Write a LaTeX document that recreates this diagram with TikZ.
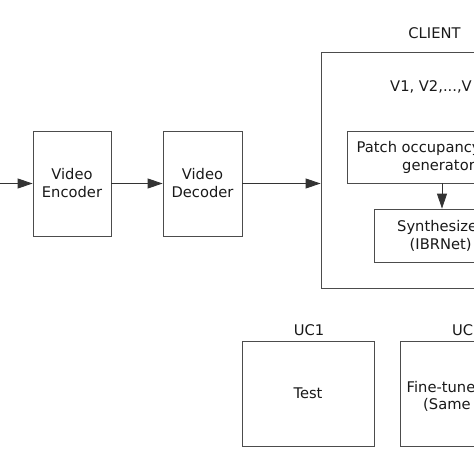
\documentclass[tikz,border=0pt]{standalone}
\usepackage{fontspec}
\setmainfont{DejaVu Sans}
\usetikzlibrary{arrows.meta}

\tikzset{
  box/.style={draw=black!70, line width=0.8pt, inner sep=0pt, align=center},
  txt/.style={inner sep=0pt, anchor=west},
  flow/.style={draw=black!80, line width=0.8pt, -{Triangle[length=15pt,width=10pt]}}
}

\begin{document}
\begin{tikzpicture}[x=1pt, y=-1pt, font=\fontsize{14.7}{18}\selectfont, text=black!90]
\useasboundingbox (0,0) rectangle (474,474);
\clip (0,0) rectangle (474,474);

% encoder / decoder chain
\coordinate (src) at (0,183.5);
\node[box, minimum width=78pt, minimum height=105pt] (enc) at (72,183.5) {Video\\Encoder};
\node[box, minimum width=79pt, minimum height=105pt] (dec) at (202.5,183.5) {Video\\Decoder};

% client side
\node[box, minimum width=227pt, minimum height=236pt] (client) at (434.5,170) {};
\node[inner sep=0pt] (clientlbl) at (434.5,33) {CLIENT};
\node[txt] (views) at (390,87) {V1, V2,...,V};
\node[box, minimum width=190pt, minimum height=52pt] (patch) at (442,157) {};
\node[txt] (patchA) at (356.5,148) {Patch occupancy};
\node[txt] (patchB) at (402,167) {generator};
\node[box, minimum width=136pt, minimum height=53pt] (synth) at (442,235.5) {};
\node[txt] (synthA) at (397,227) {Synthesize};
\node[txt] (synthB) at (409.5,245) {(IBRNet)};

% use cases
\node[box, minimum width=132pt, minimum height=105pt] (uc1) at (308,393.5) {Test};
\node[inner sep=0pt] (uc1lbl) at (309,330) {UC1};
\node[box, minimum width=132pt, minimum height=105pt] (uc2) at (466,393.5) {};
\node[txt] (uc2lbl) at (452,330) {UC};
\node[txt] (uc2A) at (406.5,387) {Fine-tune};
\node[txt] (uc2B) at (423,405) {(Same};

\draw[flow] (src) -- (enc);
\draw[flow] (enc) -- (dec);
\draw[flow] (dec) -- (dec -| client.west);
\draw[flow] (patch) -- (synth);
\end{tikzpicture}
\end{document}
